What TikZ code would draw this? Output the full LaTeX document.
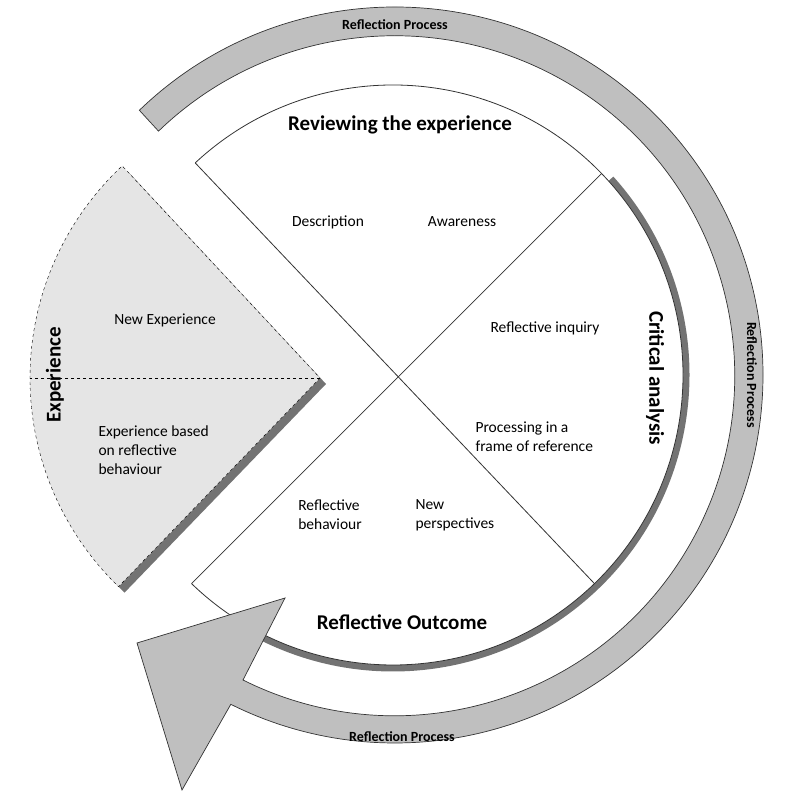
\documentclass[tikz,border=0pt]{standalone}
\usepackage{fontspec}
\setmainfont{Carlito}
\begin{document}
\begin{tikzpicture} [
        x=1pt, y=1pt,
        band/.style={draw=black!80, fill=black!25, line width=0.7},
        sector/.style={draw=black!80, line width=0.8},
        label/.style={font=\fontsize{15.5}{19}\selectfont, align=left},
        heading/.style={font=\fontsize{21}{24}\selectfont\bfseries},
        proc/.style={font=\fontsize{14}{16}\selectfont\bfseries} ]
    \useasboundingbox (0,0) rectangle (785,798);
    \coordinate (c) at (393,423);
    \coordinate (apex) at (320,420);
    % shadows
    \draw[black!55, line width=7] (c) ++(42:293) arc[start angle=42, end angle=-120, radius=293];
    \fill[black!55] ([shift={(6,-6)}]apex) -- ++(226:290) arc[start angle=226, end angle=133, radius=290] -- cycle;
    % experience wedge
    \draw[dashed, fill=black!10] (apex) -- ++(226:290) coordinate (e1)
        arc[start angle=226, end angle=133, radius=290] coordinate (e2) -- cycle;
    \draw[dashed] (apex) -- ++(180:290);
    % main sectors
    \fill[white] (c) -- ++(133:290) arc[start angle=133, end angle=-134, radius=290] -- cycle;
    \draw[sector] (c) ++(133:290) coordinate (ul)
        arc[start angle=133, end angle=-134, radius=290] coordinate (ll);
    \path (c) ++(44:290) coordinate (ur);
    \path (c) ++(-46:290) coordinate (lr);
    \draw[sector] (ul) -- (lr);
    \draw[sector] (ur) -- (ll);
    % outer process band with arrow head
    \draw[band] (395,423) ++(134:368) arc[start angle=134, end angle=-116.5, radius=368]
        -- (182,8) -- (137,155) -- (285,200) -- (243,118)
        arc[start angle=-116.5, end angle=134, radius=340] -- cycle;
    % texts
    \node[proc] (p1) at (395,773) {Reflection Process};
    \node[proc, rotate=-90] (p2) at (752,423) {Reflection Process};
    \node[proc] (p3) at (402,61) {Reflection Process};
    \node[heading] (review) at (400,673) {Reviewing the experience};
    \node[heading, rotate=-90] (critical) at (655,420) {Critical analysis};
    \node[heading] (outcome) at (402,176) {Reflective Outcome};
    \node[heading, rotate=90] (exp) at (55,423) {Experience};
    \node[label] (descr) at (328,576) {Description};
    \node[label] (aware) at (462,576) {Awareness};
    \node[label] (inquiry) at (545,470) {Reflective inquiry};
    \node[label, anchor=west] (frame) at (472,361) {Processing in a\\frame of reference};
    \node[label] (behav) at (330,283) {Reflective\\behaviour};
    \node[label, anchor=west] (persp) at (412,283) {New\\perspectives};
    \node[label] (newexp) at (165,478) {New Experience};
    \node[label, anchor=west] (based) at (95,348) {Experience based\\on reflective\\behaviour};
\end{tikzpicture}
\end{document}
